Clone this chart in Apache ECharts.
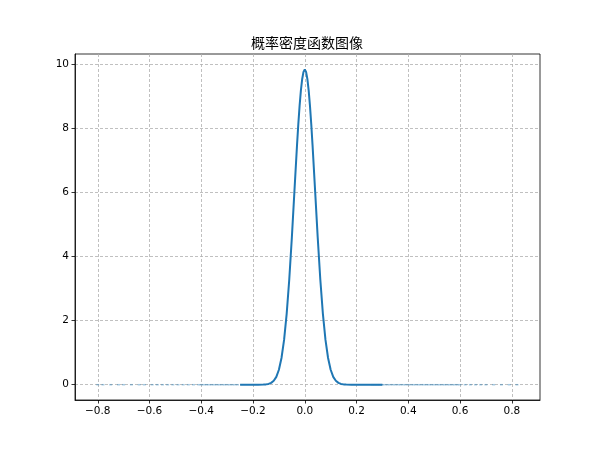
<!DOCTYPE html>
<html>
<head>
<meta charset="utf-8">
<script src="https://cdn.jsdelivr.net/npm/echarts@6/dist/echarts.min.js"></script>
<style>html,body{margin:0;padding:0;background:#fff}#c{width:600px;height:450px}</style>
</head>
<body>
<div id="c"></div>
<script>
// density curve
const curveX = [-0.25,-0.20,-0.18,-0.16,-0.15,-0.14,-0.13,-0.12,-0.11,-0.10,-0.09,-0.08,-0.07,-0.06,-0.05,-0.04,-0.03,-0.025,-0.02,-0.015,-0.01,-0.005,0.00,0.005,0.01,0.015,0.02,0.025,0.03,0.04,0.05,0.06,0.07,0.08,0.09,0.10,0.11,0.12,0.13,0.14,0.15,0.16,0.18,0.20,0.25,0.30];
const curveY = [0,0.0005,0.001,0.004,0.010,0.025,0.057,0.122,0.246,0.467,0.834,1.400,2.212,3.287,4.597,6.048,7.487,8.141,8.719,9.197,9.554,9.775,9.85,9.775,9.554,9.197,8.719,8.141,7.487,6.048,4.597,3.287,2.212,1.400,0.834,0.467,0.246,0.122,0.057,0.025,0.010,0.004,0.001,0.0005,0,0];
// sample marks along the baseline
const rugX = [-0.80,-0.78,-0.75,-0.72,-0.70,-0.67,-0.64,-0.62,-0.59,-0.57,-0.55,-0.53,-0.51,-0.49,-0.47,-0.45,-0.43,-0.41,-0.40,-0.39,-0.38,-0.37,-0.36,-0.35,-0.34,-0.33,-0.32,-0.31,-0.30,-0.29,-0.28,-0.27,-0.26,0.26,0.27,0.28,0.29,0.30,0.31,0.32,0.33,0.34,0.35,0.36,0.37,0.38,0.39,0.40,0.41,0.42,0.43,0.44,0.45,0.46,0.47,0.48,0.49,0.50,0.51,0.52,0.53,0.54,0.55,0.56,0.57,0.58,0.59,0.60,0.62,0.64,0.66,0.68,0.70,0.73,0.76,0.79,0.82];
const xTicks = [-0.8,-0.6,-0.4,-0.2,0.0,0.2,0.4,0.6,0.8];
const yTicks = [0,2,4,6,8,10];
const titleText = '概率密度函数图像';

const curveData = curveX.map((x,i)=>[x,curveY[i]]);
const rugData = rugX.map(x=>[x,0]);
const fmtX = v => (v < -1e-9 ? '\u2212' + Math.abs(v).toFixed(1) : Math.abs(v).toFixed(1));

const chart = echarts.init(document.getElementById('c'), null, {renderer:'canvas'});
chart.setOption({
  animation:false,
  backgroundColor:'#fff',
  title:{text:titleText,left:251,top:36,padding:0,
    textStyle:{fontFamily:'Noto Sans CJK SC',fontSize:14,fontWeight:'normal',color:'#000'}},
  grid:{left:75,right:60,top:54,bottom:50,show:true,borderColor:'#000',borderWidth:0.8,backgroundColor:'transparent'},
  xAxis:{type:'value',min:-0.888,max:0.909,
    axisLine:{show:true,onZero:false,lineStyle:{color:'#000',width:0.8}},
    axisTick:{show:true,inside:false,length:3.5,customValues:xTicks,lineStyle:{color:'#000',width:0.8}},
    axisLabel:{customValues:xTicks,formatter:fmtX,margin:6,color:'#000',fontFamily:'DejaVu Sans',fontSize:10.5},
    splitLine:{show:true,lineStyle:{color:'#b0b0b0',width:0.8,type:[3,2]}}},
  yAxis:{type:'value',min:-0.478,max:10.334,
    axisLine:{show:true,onZero:false,lineStyle:{color:'#000',width:0.8}},
    axisTick:{show:true,inside:false,length:3.5,customValues:yTicks,lineStyle:{color:'#000',width:0.8}},
    axisLabel:{customValues:yTicks,formatter:v=>String(v),margin:6,color:'#000',fontFamily:'DejaVu Sans',fontSize:10.5},
    splitLine:{show:true,lineStyle:{color:'#b0b0b0',width:0.8,type:[3,2]}}},
  series:[
    {type:'scatter',data:rugData,symbol:'rect',symbolSize:[3,1.5],silent:true,
      itemStyle:{color:'rgba(31,119,180,0.5)'},z:2},
    {type:'line',data:curveData,showSymbol:false,smooth:false,silent:true,
      lineStyle:{color:'#1f77b4',width:2},z:3}
  ]
});
</script>
</body>
</html>
